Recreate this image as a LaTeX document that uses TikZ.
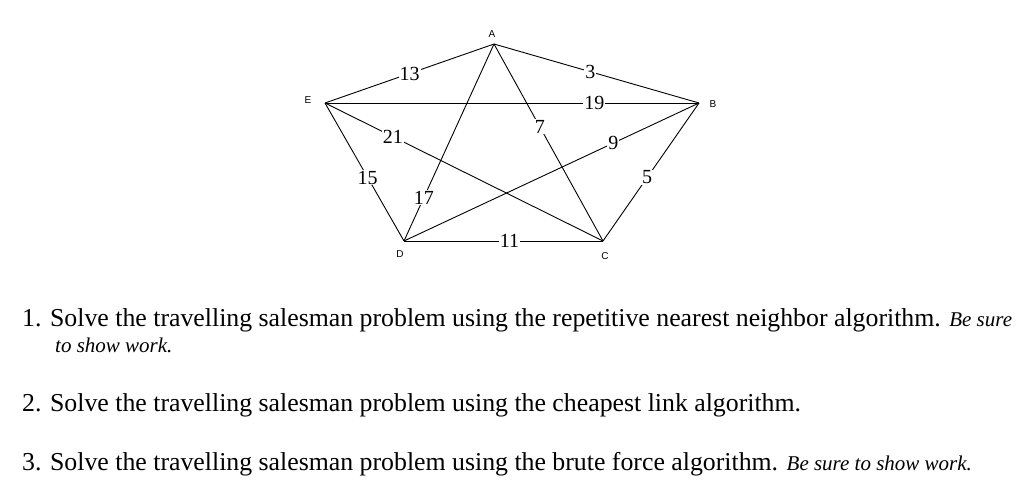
\documentclass[tikz,border=0pt]{standalone}
\usepackage{fontspec}
\setmainfont{Liberation Serif}
\newfontfamily\vfont{Liberation Sans}
\begin{document}
\begin{tikzpicture}[x=1pt,y=-1pt,
  edge/.style={draw=black,line width=0.9pt},
  wt/.style={fill=white,inner sep=1pt,font=\fontsize{20}{20}\selectfont},
  vl/.style={font=\vfont\fontsize{10}{10}\selectfont,inner sep=0pt},
  txt/.style={anchor=base west,inner sep=0pt,font=\fontsize{25.8}{28}\selectfont}]
\useasboundingbox[fill=white] (0,0) rectangle (1024,501);
\coordinate (A) at (494,44);
\coordinate (B) at (699,103);
\coordinate (C) at (603,241);
\coordinate (D) at (404,241);
\coordinate (E) at (325,103);
\node[vl] (lA) at (492,34) {A};
\node[vl] (lB) at (713,104) {B};
\node[vl] (lC) at (605,256) {C};
\node[vl] (lD) at (400,254) {D};
\node[vl] (lE) at (308,100) {E};
\draw[edge] (E) -- (A) node[wt,pos=0.5] {13};
\draw[edge] (A) -- (B) node[wt,pos=0.47] {3};
\draw[edge] (E) -- (B) node[wt,pos=0.72] {19};
\draw[edge] (A) -- (C) node[wt,pos=0.42] {7};
\draw[edge] (A) -- (D) node[wt,pos=0.78] {17};
\draw[edge] (E) -- (C) node[wt,pos=0.244] {21};
\draw[edge] (E) -- (D) node[wt,pos=0.54] {15};
\draw[edge] (D) -- (B) node[wt,pos=0.71] {9};
\draw[edge] (B) -- (C) node[wt,pos=0.54] {5};
\draw[edge] (D) -- (C) node[wt,pos=0.53] {11};
\node[txt] (t1) at (22,326) {1. Solve the travelling salesman problem using the repetitive nearest neighbor algorithm. {\itshape\fontsize{21}{22}\selectfont Be sure}};
\node[txt,font=\itshape\fontsize{21}{22}\selectfont] (t1b) at (55,352) {to show work.};
\node[txt] (t2) at (22,411) {2. Solve the travelling salesman problem using the cheapest link algorithm.};
\node[txt] (t3) at (22,470) {3. Solve the travelling salesman problem using the brute force algorithm. {\itshape\fontsize{21}{22}\selectfont Be sure to show work.}};
\end{tikzpicture}
\end{document}
